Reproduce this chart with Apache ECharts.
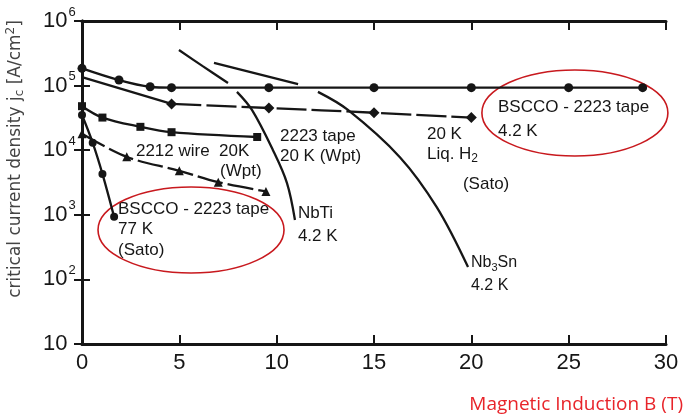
<!DOCTYPE html>
<html>
<head>
<meta charset="utf-8">
<script src="https://cdn.jsdelivr.net/npm/echarts@6/dist/echarts.min.js"></script>
<style>
    html, body { margin: 0; padding: 0; background: #fff; }
    #main { width: 685px; height: 419px; }
</style>
</head>
<body>
<div id="main"></div>
<script>
// magnetic induction B (T) vs critical current density jc (A/cm^2)
const bscco42K = [[0, 1.85e5], [1.9, 1.22e5], [3.5, 9.6e4], [4.6, 9.3e4], [9.6, 9.3e4], [15, 9.3e4], [20, 9.3e4], [25, 9.3e4], [28.8, 9.3e4]];
const bscco20K = [[0, 1.35e5], [4.6, 5.2e4], [9.6, 4.5e4], [15, 3.8e4], [20, 3.2e4]];
const wire2212 = [[0, 4.8e4], [1.05, 3.2e4], [3.0, 2.3e4], [4.6, 1.9e4], [9.0, 1.6e4]];
const tape2223Wpt = [[0, 1.8e4], [2.3, 7.9e3], [5.0, 4.8e3], [7.0, 3.2e3], [9.45, 2.3e3]];
const bscco77K = [[0, 3.5e4], [0.55, 1.3e4], [1.05, 4.3e3], [1.65, 930]];
// '-' leaves the gap where the curve crosses the 4.2 K line
const nbti = [[4.98, 3.55e5], [6.2, 2.0e5], [7.5, 1.1e5], [7.7, '-'], [7.96, 8.0e4], [8.73, 4.2e4], [9.81, 1.0e4], [10.53, 3.1e3], [10.94, 830]];
const nb3sn = [[6.78, 2.25e5], [11.1, 1.05e5], [11.6, '-'], [12.12, 8.0e4], [13.66, 4.2e4], [16.33, 7.8e3], [18.23, 1.3e3], [19.83, 155]];

const xTicks = [0, 30, 5];           // min, max, interval
const yRange = [10, 1e6];

// text notes, anchored (top-left) in data coordinates
const notes = [
    { text: '2212 wire  20K', at: [2.77, 1.39e4] },
    { text: '(Wpt)', at: [7.09, 6.8e3] },
    { text: '2223 tape\n20 K (Wpt)', at: [10.17, 2.37e4], lh: 20 },
    { text: 'NbTi\n4.2 K', at: [11.09, 1.58e3], lh: 23 },
    { text: '20 K\nLiq. H{sub|2}', at: [17.72, 2.55e4], lh: 20 },
    { text: '(Sato)', at: [19.57, 4.3e3] },
    { text: 'BSCCO - 2223 tape\n4.2 K', at: [21.37, 7.1e4], lh: 24 },
    { text: 'BSCCO - 2223 tape\n77 K\n(Sato)', at: [1.85, 1.76e3], lh: 20.5 },
    { text: 'Nb{sub|3}Sn\n4.2 K', at: [19.98, 275], lh: 23, size: 16 }
];
// red rings drawn over the figure
const circled = [
    { at: [5.6, 582], rx: 93, ry: 43 },
    { at: [25.32, 3.77e4], rx: 93, ry: 43 }
];

const ink = '#161616';
const chart = echarts.init(document.getElementById('main'));

const axisLine = { show: true, lineStyle: { color: ink, width: 3 } };

function curve(data, symbol, size, dash) {
    return {
        type: 'line',
        data: data,
        smooth: 0.35,
        symbol: symbol || 'none',
        symbolSize: size || 0,
        showSymbol: !!symbol,
        itemStyle: { color: ink },
        lineStyle: { color: ink, width: 2.3, type: dash || 'solid' },
        silent: true
    };
}

const xAxisBase = {
    type: 'value',
    min: xTicks[0],
    max: xTicks[1],
    interval: xTicks[2],
    axisLine: axisLine,
    axisTick: { inside: true, length: 9, lineStyle: { color: ink, width: 2 } },
    splitLine: { show: false }
};
const yAxisBase = {
    type: 'log',
    logBase: 10,
    min: yRange[0],
    max: yRange[1],
    axisLine: axisLine,
    axisTick: { inside: true, length: 8, lineStyle: { color: ink, width: 2 } },
    splitLine: { show: false }
};

chart.setOption({
    animation: false,
    grid: { left: 82, right: 19, top: 21, bottom: 75 },
    xAxis: [
        Object.assign({}, xAxisBase, {
            position: 'bottom',
            axisLabel: { color: ink, fontSize: 22, fontFamily: 'Liberation Sans', margin: 8 }
        }),
        Object.assign({}, xAxisBase, { position: 'top', axisLabel: { show: false } })
    ],
    yAxis: [
        Object.assign({}, yAxisBase, {
            position: 'left',
            axisLabel: {
                align: 'left',
                margin: 39,
                formatter: function (v) {
                    const e = Math.round(Math.log10(v));
                    return e === 1 ? '{b|10}' : '{b|10}{s|' + e + '}';
                },
                rich: {
                    b: { color: ink, fontSize: 22, fontFamily: 'Liberation Sans' },
                    s: { color: ink, fontSize: 13, fontFamily: 'Liberation Sans', padding: [0, 0, 18, 1] }
                }
            }
        }),
        Object.assign({}, yAxisBase, { position: 'right', axisLabel: { show: false } })
    ],
    series: [
        curve(bscco42K, 'circle', 9),
        curve(bscco20K.slice(0, 2)),
        curve(bscco20K.slice(1), 'diamond', 11, [30, 5]),
        curve(wire2212, 'rect', 8),
        curve(tape2223Wpt, 'triangle', 9, [26, 5]),
        curve(bscco77K, 'circle', 8),
        curve(nbti),
        curve(nb3sn)
    ]
});

function toPx(p) {
    return chart.convertToPixel({ xAxisIndex: 0, yAxisIndex: 0 }, p);
}

const graphics = [];
notes.forEach(function (n) {
    const p = toPx(n.at);
    const size = n.size || 17;
    graphics.push({
        type: 'text',
        x: p[0],
        y: p[1],
        silent: true,
        style: {
            text: n.text,
            fill: ink,
            fontSize: size,
            fontFamily: 'Liberation Sans',
            lineHeight: n.lh || 20,
            rich: {
                sub: { fontSize: size - 5, fontFamily: 'Liberation Sans', padding: [10, 0, 0, 0] }
            }
        }
    });
});
circled.forEach(function (c) {
    const p = toPx(c.at);
    graphics.push({
        type: 'ellipse',
        silent: true,
        shape: { cx: p[0], cy: p[1], rx: c.rx, ry: c.ry },
        style: { fill: 'none', stroke: '#c8191e', lineWidth: 1.6 }
    });
});
// axis titles
graphics.push({
    type: 'text',
    x: 16,
    y: 159,
    rotation: Math.PI / 2,
    silent: true,
    style: {
        text: '{t|critical current density j}{sub|c}{t| [A/cm}{sup|2}{t|]}',
        align: 'center',
        textAlign: 'center',
        verticalAlign: 'middle',
        textVerticalAlign: 'middle',
        fill: '#444',
        rich: {
            t: { fontSize: 17, fontFamily: 'DejaVu Sans', fill: '#444' },
            sub: { fontSize: 12, fontFamily: 'DejaVu Sans', fill: '#444', padding: [8, 0, 0, 0] },
            sup: { fontSize: 12, fontFamily: 'DejaVu Sans', fill: '#444', padding: [0, 0, 10, 0] }
        }
    }
});
graphics.push({
    type: 'text',
    right: 2,
    top: 395,
    silent: true,
    style: { text: 'Magnetic Induction B (T)', fill: '#e8242a', fontSize: 19, fontFamily: 'Open Sans' }
});

chart.setOption({ graphic: graphics });
</script>
</body>
</html>
